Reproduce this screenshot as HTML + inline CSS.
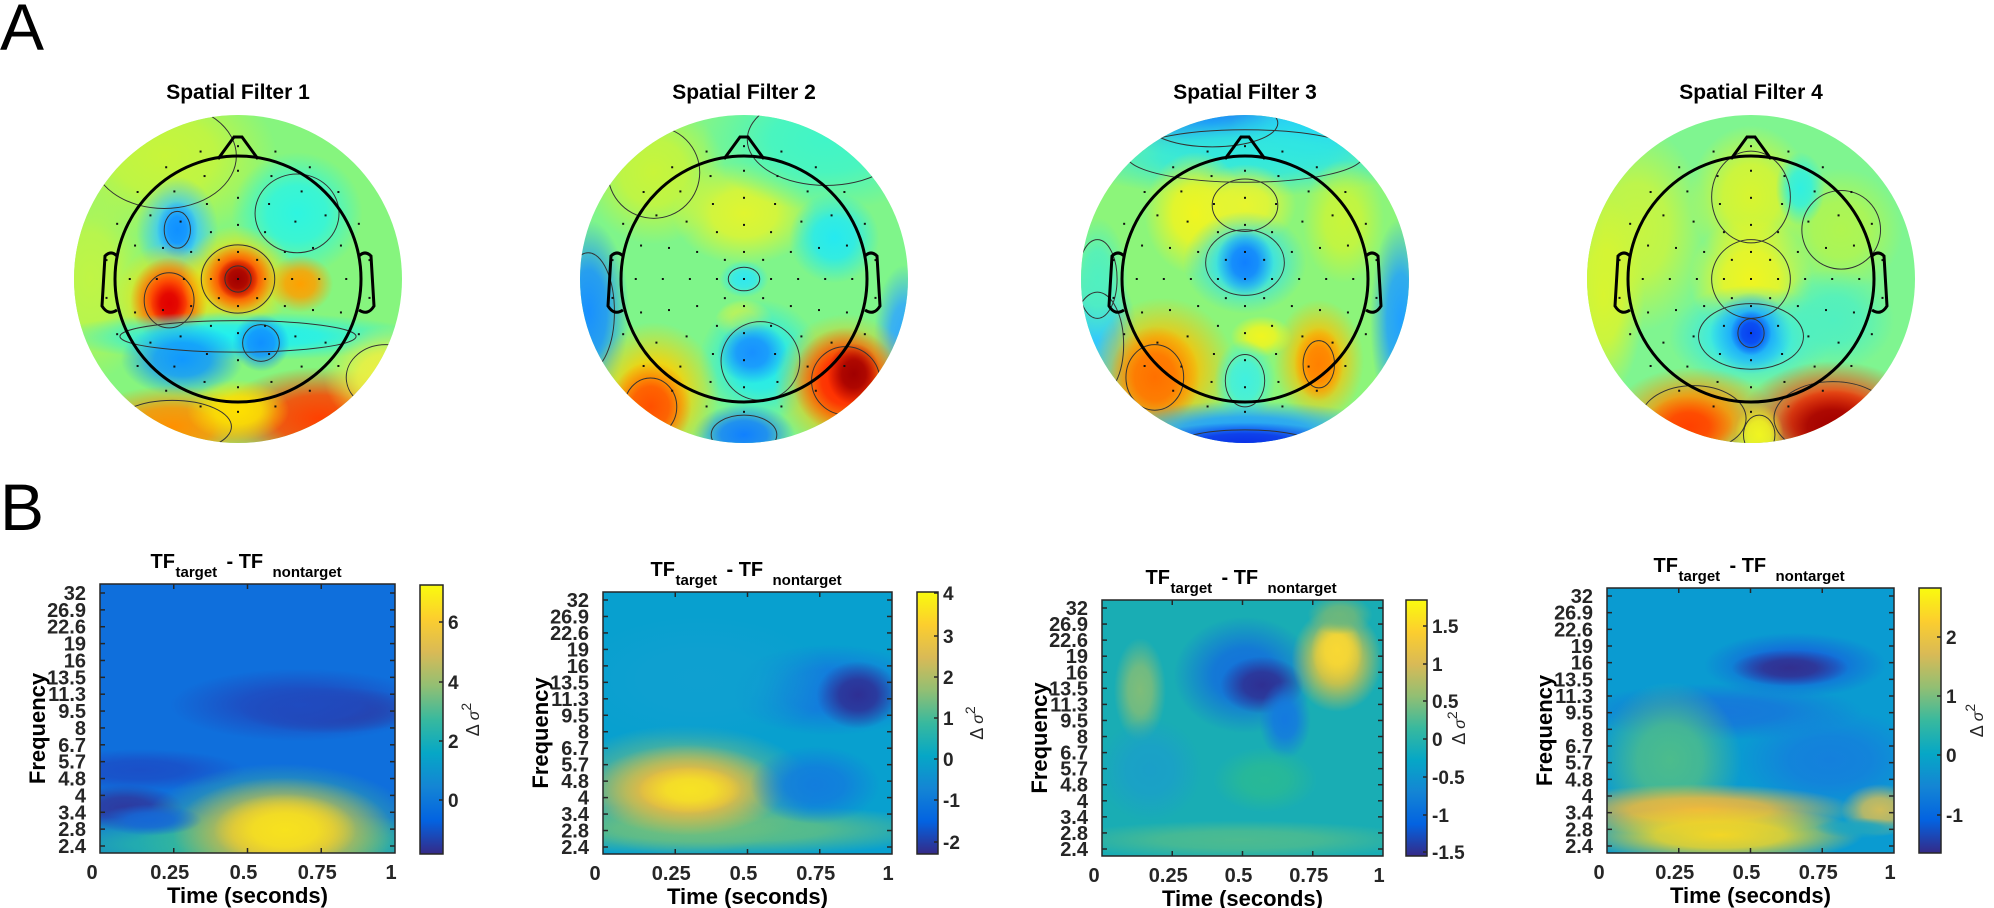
<!DOCTYPE html>
<html><head><meta charset="utf-8">
<style>
html,body{margin:0;padding:0;background:#fff;}
svg{display:block;}
text{font-family:"Liberation Sans",Arial,sans-serif;}
</style></head>
<body>
<svg id="s" width="1994" height="908" viewBox="0 0 1994 908" xmlns="http://www.w3.org/2000/svg"></svg>
<script>
var S=document.getElementById('s');
var out='';
var defs='<defs>';
var gid=0;
function grad(col){
  var id='g'+(gid++);
  defs+='<radialGradient id="'+id+'"><stop offset="0" stop-color="'+col+'" stop-opacity="1"/><stop offset="0.45" stop-color="'+col+'" stop-opacity="0.85"/><stop offset="1" stop-color="'+col+'" stop-opacity="0"/></radialGradient>';
  return id;
}
function blob(x,y,rx,ry,col){
  var id=grad(col);
  return '<ellipse cx="'+x+'" cy="'+y+'" rx="'+rx+'" ry="'+ry+'" fill="url(#'+id+')"/>';
}
out+='<text x="0" y="50" font-size="66" fill="#000">A</text>';
out+='<text x="0" y="530" font-size="66" fill="#000">B</text>';

var R=164, HR=123;
var topos=[
 {cx:238,base:'#86f57e',blobs:[
  [-0.45,-0.75,0.55,0.4,'#c8f53a'],[-0.9,0.0,0.3,0.5,'#c0f545'],[0.36,-0.4,0.32,0.3,'#2ef5e0'],
  [-0.37,-0.3,0.2,0.26,'#38c8ff'],[-0.37,-0.3,0.1,0.14,'#1090ff'],
  [-0.42,0.13,0.26,0.28,'#ffe000'],[-0.42,0.13,0.19,0.21,'#ff3000'],[-0.42,0.15,0.09,0.11,'#e00000'],
  [0.0,0.0,0.28,0.26,'#ffe000'],[0.0,0.0,0.19,0.18,'#ff3000'],[0.0,0.0,0.1,0.1,'#a00000'],
  [0.38,0.03,0.16,0.14,'#ffa000'],
  [0.0,0.35,0.9,0.12,'#20f0f0'],
  [-0.34,0.49,0.3,0.18,'#1098ff'],[0.14,0.39,0.14,0.14,'#1090ff'],
  [0.5,0.85,0.5,0.25,'#ff4000'],[-0.4,0.9,0.45,0.2,'#ff9000'],[0.0,0.8,0.25,0.15,'#ffe000'],[0.9,0.6,0.3,0.25,'#f0f040']
 ]},
 {cx:744,base:'#7ff58a',blobs:[
  [-0.55,-0.65,0.35,0.35,'#c8f53a'],[0.0,-0.4,0.35,0.25,'#e0f530'],[0.5,-0.85,0.6,0.35,'#40f5c8'],
  [0.55,-0.25,0.22,0.22,'#25eaf0'],[-0.95,0.2,0.2,0.45,'#1890ff'],[0.98,0.35,0.15,0.35,'#30a8ff'],
  [0.0,0.0,0.12,0.09,'#30e8f0'],[0.0,0.25,0.14,0.1,'#e8f530'],
  [0.1,0.5,0.3,0.3,'#20eaf0'],[0.05,0.45,0.17,0.15,'#1890ff'],[0.0,0.95,0.25,0.15,'#1080ff'],
  [-0.55,0.7,0.32,0.35,'#ffd000'],[-0.57,0.78,0.2,0.22,'#ff5000'],
  [0.62,0.65,0.35,0.35,'#ffc000'],[0.62,0.62,0.26,0.26,'#ff2000'],[0.67,0.58,0.13,0.15,'#a00000']
 ]},
 {cx:1245,base:'#8cf57a',blobs:[
  [-0.2,-0.95,0.5,0.18,'#1888ff'],[0.4,-0.9,0.4,0.2,'#20d0ff'],[0.0,-0.75,0.9,0.2,'#30e8e0'],
  [-0.3,-0.4,0.25,0.3,'#f0f520'],[0.0,-0.45,0.25,0.2,'#e8f530'],[0.6,-0.35,0.2,0.3,'#c8f53a'],
  [0.0,-0.1,0.3,0.25,'#30e0f0'],[0.0,-0.1,0.14,0.16,'#1080ff'],
  [-0.9,0.4,0.2,0.4,'#30c8ff'],[0.95,0.25,0.15,0.5,'#20a0ff'],[-0.9,0.0,0.15,0.3,'#50f0c0'],
  [-0.5,0.55,0.35,0.35,'#ffc000'],[-0.55,0.6,0.22,0.25,'#ff7000'],
  [0.45,0.5,0.22,0.3,'#ffc000'],[0.45,0.52,0.12,0.18,'#ff8000'],[0.1,0.35,0.15,0.1,'#f0f520'],
  [0.0,0.62,0.15,0.2,'#40f0e0'],
  [0.0,0.92,0.7,0.14,'#20a0ff'],[0.0,1.0,0.5,0.1,'#0a30e8']
 ]},
 {cx:1751,base:'#7ff590',blobs:[
  [0.0,-0.5,0.3,0.35,'#d8f530'],[-0.7,-0.3,0.35,0.5,'#c8f540'],[0.55,-0.3,0.3,0.3,'#b0f550'],
  [0.3,-0.55,0.12,0.18,'#30f0e0'],[0.0,0.0,0.3,0.3,'#f0f520'],[-0.9,0.1,0.2,0.5,'#d8f530'],
  [0.0,0.35,0.4,0.25,'#30e8f0'],[0.0,0.33,0.2,0.2,'#18a0ff'],[0.0,0.33,0.1,0.11,'#0840f0'],
  [0.5,0.25,0.3,0.25,'#50f0c0'],
  [-0.35,0.85,0.4,0.25,'#ff9000'],[-0.38,0.9,0.22,0.15,'#ff4000'],
  [0.5,0.85,0.45,0.28,'#ff3000'],[0.5,0.9,0.28,0.18,'#a00000'],[0.05,0.95,0.12,0.15,'#f0f520']
 ]}
];
var titles=['Spatial Filter 1','Spatial Filter 2','Spatial Filter 3','Spatial Filter 4'];
topos.forEach(function(t,i){
  var cx=t.cx, cy=279;
  var cid='tc'+i;
  defs+='<clipPath id="'+cid+'"><circle cx="'+cx+'" cy="'+cy+'" r="'+R+'"/></clipPath>';
  out+='<text x="'+cx+'" y="99" font-size="21" font-weight="bold" text-anchor="middle">'+titles[i]+'</text>';
  out+='<g clip-path="url(#'+cid+')"><rect x="'+(cx-R)+'" y="'+(cy-R)+'" width="'+(2*R)+'" height="'+(2*R)+'" fill="'+t.base+'"/>';
  t.blobs.forEach(function(b){out+=blob(cx+b[0]*R,cy+b[1]*R,b[2]*R*1.25,b[3]*R*1.25,b[4]);});
  t.blobs.forEach(function(b,k){ if(k%2==0) out+='<ellipse cx="'+(cx+b[0]*R)+'" cy="'+(cy+b[1]*R)+'" rx="'+(b[2]*R*0.8)+'" ry="'+(b[3]*R*0.8)+'" fill="none" stroke="#333" stroke-width="1"/>';});
  var rings=[[0,1],[0.22,8],[0.44,12],[0.66,16],[0.88,20],[1.08,22]];
  rings.forEach(function(rg){for(var k=0;k<rg[1];k++){var a=2*Math.PI*k/rg[1];out+='<rect x="'+(cx+Math.sin(a)*rg[0]*HR-1)+'" y="'+(cy-Math.cos(a)*rg[0]*HR-1)+'" width="2" height="2" fill="#111"/>';}});
  out+='</g>';
  out+='<circle cx="'+cx+'" cy="'+cy+'" r="'+HR+'" fill="none" stroke="#000" stroke-width="3"/>';
  out+='<path d="M'+(cx-20)+' 159 L'+(cx-4)+' 137 L'+(cx+4)+' 137 L'+(cx+20)+' 159" fill="none" stroke="#000" stroke-width="3"/>';
  out+='<path d="M'+(cx-121)+' 256 Q'+(cx-127)+' 250 '+(cx-133)+' 256 L'+(cx-136)+' 306 Q'+(cx-130)+' 316 '+(cx-121)+' 310" fill="none" stroke="#000" stroke-width="3"/>';
  out+='<path d="M'+(cx+121)+' 256 Q'+(cx+127)+' 250 '+(cx+133)+' 256 L'+(cx+136)+' 306 Q'+(cx+130)+' 316 '+(cx+121)+' 310" fill="none" stroke="#000" stroke-width="3"/>';
});

var parula=['#352a87','#0363e1','#1485d4','#06a7c6','#38b99e','#92bf73','#d9ba56','#fcce2e','#f9fb0e'];
var freqs=['32','26.9','22.6','19','16','13.5','11.3','9.5','8','6.7','5.7','4.8','4','3.4','2.8','2.4'];
var panels=[
 {x0:100,x1:395,y0:584,y1:853,f0:593,f1:846,cb:[420,443,585,854],ticks:[['6',622],['4',682],['2',741],['0',800]],lab:479,base:'#0f6fdc',
  blobs:[[330,710,70,18,'#33318f'],[300,705,100,28,'#1f4bc0'],[125,808,45,18,'#2d3a9f'],[140,770,80,16,'#1a50c8'],
         [250,845,200,25,'#25b5a8'],[280,835,110,55,'#47bc8c'],[283,832,85,42,'#e6b83f'],[285,830,55,28,'#f7e21e'],[150,820,40,12,'#1668d6']]},
 {x0:603,x1:892,y0:592,y1:854,f0:600,f1:847,cb:[917,938,592,854],ticks:[['4',593],['3',636],['2',677],['1',718],['0',759],['-1',800],['-2',842]],lab:983,base:'#08a0cf',
  blobs:[[720,830,180,20,'#5fbf84'],[685,790,100,50,'#7cbf78'],[687,790,75,35,'#f2b93c'],[690,790,40,18,'#f6e324'],
         [830,690,80,35,'#1478de'],[858,695,32,26,'#2e2f94'],[815,785,50,30,'#127ddd'],[700,680,100,50,'#0fa0d0']]},
 {x0:1102,x1:1383,y0:600,y1:856,f0:608,f1:849,cb:[1406,1427,600,856],ticks:[['1.5',626],['1',664],['0.5',701],['0',739],['-0.5',777],['-1',815],['-1.5',852]],lab:1465,base:'#19adb4',
  blobs:[[1245,675,55,45,'#1370dc'],[1262,685,32,22,'#2f2f92'],[1285,720,20,30,'#1479e0'],[1337,660,35,40,'#e6c53a'],[1337,650,20,25,'#f8d834'],
         [1340,615,25,15,'#6cb77c'],[1140,690,20,40,'#7fbd79'],[1265,780,40,25,'#28b996'],[1240,840,140,15,'#4cbb90'],[1150,770,40,40,'#1aa0c8']]},
 {x0:1607,x1:1894,y0:588,y1:853,f0:596,f1:846,cb:[1919,1941,588,853],ticks:[['2',637],['1',696],['0',755],['-1',815]],lab:1983,base:'#0a9bd1',
  blobs:[[1795,665,70,25,'#1565db'],[1790,668,45,14,'#322f8f'],[1720,712,110,22,'#1678da'],[1830,760,70,40,'#1480dc'],
         [1670,760,55,60,'#4cbc8c'],[1700,810,120,20,'#f0b83c'],[1720,835,110,22,'#f3d625'],[1880,810,30,20,'#cfbc5a'],[1860,828,35,8,'#1ea5c0']]}
];
panels.forEach(function(p,i){
  var cid='pc'+i, w=p.x1-p.x0, h=p.y1-p.y0;
  defs+='<clipPath id="'+cid+'"><rect x="'+p.x0+'" y="'+p.y0+'" width="'+w+'" height="'+h+'"/></clipPath>';
  out+='<g clip-path="url(#'+cid+')"><rect x="'+p.x0+'" y="'+p.y0+'" width="'+w+'" height="'+h+'" fill="'+p.base+'"/>';
  p.blobs.forEach(function(b){out+=blob(b[0],b[1],b[2]*1.3,b[3]*1.3,b[4]);});
  out+='</g>';
  out+='<rect x="'+p.x0+'" y="'+p.y0+'" width="'+w+'" height="'+h+'" fill="none" stroke="#262626" stroke-width="1.5"/>';
  for(var k=0;k<16;k++){
    var y=p.f0+k*(p.f1-p.f0)/15;
    out+='<line x1="'+p.x0+'" x2="'+(p.x0+5)+'" y1="'+y+'" y2="'+y+'" stroke="#262626" stroke-width="1.5"/><line x1="'+(p.x1-5)+'" x2="'+p.x1+'" y1="'+y+'" y2="'+y+'" stroke="#262626" stroke-width="1.5"/>';
    out+='<text x="'+(p.x0-14)+'" y="'+(y+7)+'" font-size="20" font-weight="bold" text-anchor="end" fill="#262626">'+freqs[k]+'</text>';
  }
  var tl=['0','0.25','0.5','0.75','1'];
  for(var k=0;k<5;k++){
    var x=p.x0+k*w/4;
    if(k>0&&k<4) out+='<line x1="'+x+'" x2="'+x+'" y1="'+p.y0+'" y2="'+(p.y0+5)+'" stroke="#262626" stroke-width="1.5"/><line x1="'+x+'" x2="'+x+'" y1="'+(p.y1-5)+'" y2="'+p.y1+'" stroke="#262626" stroke-width="1.5"/>';
    out+='<text x="'+(x-(k==0?8:(k==4?4:4)))+'" y="'+(p.y1+26)+'" font-size="20" font-weight="bold" text-anchor="middle" fill="#262626">'+tl[k]+'</text>';
  }
  out+='<text x="'+(p.x0+w/2)+'" y="'+(p.y1+50)+'" font-size="22" font-weight="bold" text-anchor="middle" fill="#000">Time (seconds)</text>';
  var fy=(p.y0+p.y1)/2+10;
  out+='<text transform="translate('+(p.x0-55)+','+fy+') rotate(-90)" font-size="22" font-weight="bold" text-anchor="middle" fill="#000">Frequency</text>';
  // title
  var tb=p.x0+w/2-97, ty=p.y0-16;
  out+='<text y="'+ty+'" font-size="20" font-weight="bold" fill="#000"><tspan x="'+tb+'">TF</tspan><tspan x="'+(tb+25)+'" font-size="15" dy="9">target</tspan><tspan x="'+(tb+76)+'" dy="-9">- TF</tspan><tspan x="'+(tb+122)+'" font-size="15" dy="9">nontarget</tspan></text>';
  var c=p.cb, gidc='cb'+i;
  defs+='<linearGradient id="'+gidc+'" x1="0" y1="1" x2="0" y2="0">';
  parula.forEach(function(col,j){defs+='<stop offset="'+(j/(parula.length-1))+'" stop-color="'+col+'"/>';});
  defs+='</linearGradient>';
  out+='<rect x="'+c[0]+'" y="'+c[2]+'" width="'+(c[1]-c[0])+'" height="'+(c[3]-c[2])+'" fill="url(#'+gidc+')" stroke="#262626" stroke-width="1.5"/>';
  p.ticks.forEach(function(t){
    out+='<line x1="'+(c[1]-4)+'" x2="'+c[1]+'" y1="'+t[1]+'" y2="'+t[1]+'" stroke="#262626" stroke-width="1.5"/>';
    out+='<text x="'+(c[1]+5)+'" y="'+(t[1]+7)+'" font-size="19" font-weight="bold" fill="#262626">'+t[0]+'</text>';
  });
  var ly=(c[2]+c[3])/2;
  out+='<text transform="translate('+p.lab+','+ly+') rotate(-90)" font-size="18" text-anchor="middle" fill="#262626">Δ <tspan font-style="italic" font-size="16">σ</tspan><tspan font-size="14" dy="-8">2</tspan></text>';
});
defs+='</defs>';
S.innerHTML=defs+out;
</script>
</body></html>
